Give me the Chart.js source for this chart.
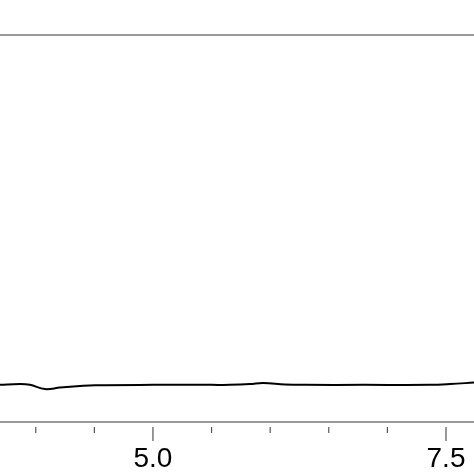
<!DOCTYPE html>
<html>
<head>
<style>html,body{margin:0;padding:0;background:#fff}#c{display:block}</style>
<script src="https://cdn.jsdelivr.net/npm/chart.js@4"></script>
</head>
<body>
<canvas id="c" width="474" height="474"></canvas>
<script>
var xValues = [3.695, 3.866, 3.95, 4.079, 4.207, 4.378, 4.506, 5.0, 5.5, 5.657, 5.828, 5.939, 6.127, 6.297, 6.8, 7.364, 7.535, 7.739];
var yValues = [9.6, 9.8, 9.6, 8.5, 8.9, 9.3, 9.5, 9.6, 9.6, 9.6, 9.8, 10.1, 9.7, 9.6, 9.6, 9.6, 9.8, 10.2];
var tickValues = [4.0, 4.5, 5.0, 5.5, 6.0, 6.5, 7.0, 7.5];
var labelledTicks = [5.0, 7.5];

var frame = {
  id: 'frame',
  afterDraw: function (chart) {
    var ctx = chart.ctx, a = chart.chartArea, sx = chart.scales.x;
    ctx.save();
    ctx.strokeStyle = '#999';
    ctx.lineWidth = 2;
    ctx.beginPath();
    ctx.moveTo(a.left, a.top); ctx.lineTo(a.right, a.top);
    ctx.moveTo(a.left, a.bottom); ctx.lineTo(a.right, a.bottom);
    ctx.stroke();
    ctx.strokeStyle = '#555';
    ctx.lineWidth = 1.2;
    ctx.fillStyle = '#000';
    ctx.font = '28px "Liberation Sans"';
    ctx.textAlign = 'center';
    ctx.textBaseline = 'alphabetic';
    tickValues.forEach(function (v) {
      var px = sx.getPixelForValue(v);
      var big = labelledTicks.indexOf(v) >= 0;
      ctx.beginPath();
      ctx.moveTo(px, a.bottom + 5);
      ctx.lineTo(px, a.bottom + (big ? 19 : 11));
      ctx.stroke();
      if (big) ctx.fillText(v.toFixed(1), px, a.bottom + 45);
    });
    ctx.restore();
  }
};

new Chart(document.getElementById('c'), {
  type: 'line',
  data: {
    datasets: [{
      data: xValues.map(function (x, i) { return { x: x, y: yValues[i] }; }),
      borderColor: '#000',
      borderWidth: 2,
      pointRadius: 0,
      tension: 0.4,
      fill: false
    }]
  },
  options: {
    responsive: false,
    animation: false,
    layout: { padding: { top: 35, left: 0, right: 0, bottom: 0 } },
    plugins: { legend: { display: false }, tooltip: { enabled: false } },
    scales: {
      x: {
        type: 'linear',
        min: 3.695,
        max: 7.739,
        afterFit: function (s) { s.height = 52; },
        grid: { display: false, drawTicks: false },
        border: { display: false },
        ticks: { display: false }
      },
      y: { display: false, min: 0, max: 100 }
    }
  },
  plugins: [frame]
});
</script>
</body>
</html>
